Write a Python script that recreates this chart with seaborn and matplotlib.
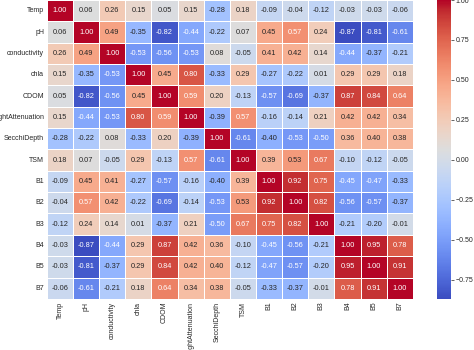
import numpy as np
import pandas as pd
import matplotlib
matplotlib.use("Agg")
import matplotlib.pyplot as plt
import seaborn as sns

labels = ["Temp", "pH", "conductivity", "chla", "CDOM", "lightAttenuation",
          "SecchiDepth", "TSM", "B1", "B2", "B3", "B4", "B5", "B7"]

temp = [1.00, 0.06, 0.26, 0.15, 0.05, 0.15, -0.28, 0.18, -0.09, -0.04, -0.12, -0.03, -0.03, -0.06]
ph = [0.06, 1.00, 0.49, -0.35, -0.82, -0.44, -0.22, 0.07, 0.45, 0.57, 0.24, -0.87, -0.81, -0.61]
conductivity = [0.26, 0.49, 1.00, -0.53, -0.56, -0.53, 0.08, -0.05, 0.41, 0.42, 0.14, -0.44, -0.37, -0.21]
chla = [0.15, -0.35, -0.53, 1.00, 0.45, 0.80, -0.33, 0.29, -0.27, -0.22, 0.01, 0.29, 0.29, 0.18]
cdom = [0.05, -0.82, -0.56, 0.45, 1.00, 0.59, 0.20, -0.13, -0.57, -0.69, -0.37, 0.87, 0.84, 0.64]
light_att = [0.15, -0.44, -0.53, 0.80, 0.59, 1.00, -0.39, 0.57, -0.16, -0.14, 0.21, 0.42, 0.42, 0.34]
secchi = [-0.28, -0.22, 0.08, -0.33, 0.20, -0.39, 1.00, -0.61, -0.40, -0.53, -0.50, 0.36, 0.40, 0.38]
tsm = [0.18, 0.07, -0.05, 0.29, -0.13, 0.57, -0.61, 1.00, 0.39, 0.53, 0.67, -0.10, -0.12, -0.05]
b1 = [-0.09, 0.45, 0.41, -0.27, -0.57, -0.16, -0.40, 0.39, 1.00, 0.92, 0.75, -0.45, -0.47, -0.33]
b2 = [-0.04, 0.57, 0.42, -0.22, -0.69, -0.14, -0.53, 0.53, 0.92, 1.00, 0.82, -0.56, -0.57, -0.37]
b3 = [-0.12, 0.24, 0.14, 0.01, -0.37, 0.21, -0.50, 0.67, 0.75, 0.82, 1.00, -0.21, -0.20, -0.01]
b4 = [-0.03, -0.87, -0.44, 0.29, 0.87, 0.42, 0.36, -0.10, -0.45, -0.56, -0.21, 1.00, 0.95, 0.78]
b5 = [-0.03, -0.81, -0.37, 0.29, 0.84, 0.42, 0.40, -0.12, -0.47, -0.57, -0.20, 0.95, 1.00, 0.91]
b7 = [-0.06, -0.61, -0.21, 0.18, 0.64, 0.34, 0.38, -0.05, -0.33, -0.37, -0.01, 0.78, 0.91, 1.00]

rows = [temp, ph, conductivity, chla, cdom, light_att, secchi, tsm, b1, b2, b3, b4, b5, b7]
corr = pd.DataFrame(rows, index=labels, columns=labels)

sns.set_theme(style="white")
plt.rcParams["font.family"] = ["Liberation Sans", "DejaVu Sans"]

fig = plt.figure(figsize=(4.74, 3.5), dpi=100)
ax = fig.add_axes([0.099, 0.146, 0.772, 0.854])
cax = fig.add_axes([0.922, 0.146, 0.03, 0.854])

sns.heatmap(corr, ax=ax, cbar_ax=cax, cmap="coolwarm", annot=True, fmt=".2f",
            linewidths=0.5, linecolor="white", annot_kws={"fontsize": 5.3})
ax.tick_params(axis="both", labelsize=5, length=0, pad=2)
ax.set_xticklabels(ax.get_xticklabels(), rotation=90)
ax.set_yticklabels(ax.get_yticklabels(), rotation=0)
cax.tick_params(labelsize=5, length=2, width=0.5, pad=1)
cax.set_yticks([-0.75, -0.5, -0.25, 0.0, 0.25, 0.5, 0.75, 1.0])
for s in cax.spines.values():
    s.set_visible(False)

plt.savefig("out.png", dpi=100)
